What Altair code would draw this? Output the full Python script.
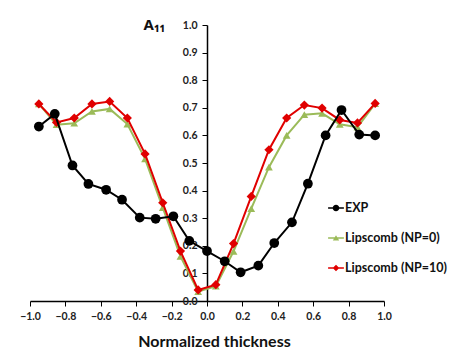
import altair as alt
import pandas as pd

# EXP data
exp_x = [-0.95, -0.86, -0.76, -0.67, -0.57, -0.48, -0.38, -0.29, -0.19, -0.10, 0.0,
         0.10, 0.19, 0.29, 0.38, 0.48, 0.57, 0.67, 0.76, 0.86, 0.95]
exp_y = [0.632, 0.678, 0.491, 0.424, 0.403, 0.367, 0.302, 0.298, 0.307, 0.218, 0.181,
         0.144, 0.104, 0.128, 0.210, 0.285, 0.425, 0.600, 0.692, 0.603, 0.600]

# Lipscomb model
mod_x = [-0.95, -0.85, -0.75, -0.65, -0.55, -0.45, -0.35, -0.25, -0.15, -0.05,
         0.05, 0.15, 0.25, 0.35, 0.45, 0.55, 0.65, 0.75, 0.85, 0.95]
np0_y = [0.714, 0.639, 0.644, 0.687, 0.696, 0.641, 0.515, 0.338, 0.162, 0.034,
         0.054, 0.180, 0.335, 0.485, 0.600, 0.675, 0.680, 0.640, 0.630, 0.715]
np10_y = [0.714, 0.647, 0.663, 0.714, 0.723, 0.663, 0.533, 0.356, 0.181, 0.040,
          0.059, 0.208, 0.379, 0.548, 0.663, 0.710, 0.699, 0.656, 0.645, 0.716]

x_ticks = [-1.0, -0.8, -0.6, -0.4, -0.2, 0.0, 0.2, 0.4, 0.6, 0.8, 1.0]
y_ticks = [0.0, 0.1, 0.2, 0.3, 0.4, 0.5, 0.6, 0.7, 0.8, 0.9, 1.0]

series_names = ["EXP", "Lipscomb (NP=0)", "Lipscomb (NP=10)"]
series_colors = ["#000000", "#9bbb59", "#e00000"]
legend_paths = [
    "M-1,-0.09H1V0.09H-1Z M-0.42,0A0.42,0.42 0 1,1 0.42,0A0.42,0.42 0 1,1 -0.42,0Z",
    "M-1,-0.09H1V0.09H-1Z M-0.4,0.32L0,-0.36L0.4,0.32Z",
    "M-1,-0.09H1V0.09H-1Z M0,-0.42L0.42,0L0,0.42L-0.42,0Z",
]

df_exp = pd.DataFrame({"x": exp_x, "y": exp_y, "series": series_names[0]})
df_np0 = pd.DataFrame({"x": mod_x, "y": np0_y, "series": series_names[1]})
df_np10 = pd.DataFrame({"x": mod_x, "y": np10_y, "series": series_names[2]})
df_all = pd.concat([df_exp, df_np0, df_np10], ignore_index=True)

FONT = "Lato"

xscale = alt.Scale(domain=[-1, 1], nice=False, zero=False)
yscale = alt.Scale(domain=[0, 1], nice=False)

x_enc = alt.X("x:Q", scale=xscale, axis=alt.Axis(
    title="Normalized thickness", values=x_ticks,
    format=".1f", grid=False, domainColor="#000", domainWidth=1.5, tickColor="#000",
    tickSize=5, labelFont=FONT, labelFontWeight="bold", labelFontSize=10.5, labelColor="#222",
    labelPadding=5, labelOverlap=False, labelFlush=False,
    titleFont=FONT, titleFontWeight="bold", titleFontSize=16,
    titlePadding=12, titleColor="#111", titleX=184, titleAlign="center"))
y_enc = alt.Y("y:Q", scale=yscale, axis=alt.Axis(
    title="A₁₁", values=y_ticks,
    format=".1f", grid=False, offset=-177, domainColor="#000", domainWidth=1.5,
    tickColor="#000", tickSize=5, labelFont=FONT, labelFontWeight="bold",
    labelFontSize=10.5, labelColor="#222", labelPadding=5, labelOverlap=False,
    labelFlush=False,
    titleAngle=0, titleAlign="left", titleBaseline="middle", titleX=-64, titleY=-1,
    titleFont="Noto Sans", titleFontWeight="bold", titleFontSize=15, titleColor="#111"))

def series_layers(df, color, shape, size):
    base = alt.Chart(df).encode(x=x_enc, y=y_enc)
    line = base.mark_line(color=color, strokeWidth=2)
    pts = base.mark_point(color=color, shape=shape, filled=True, size=size, opacity=1)
    return [line, pts]

layers = []
layers += series_layers(df_np0, series_colors[1], "triangle-up", 60)
layers += series_layers(df_np10, series_colors[2], "diamond", 85)
layers += series_layers(df_exp, series_colors[0], "circle", 95)

legend_layer = alt.Chart(df_all).transform_filter("datum.x > 5").mark_point(
    filled=True, opacity=1, size=250).encode(
    x=x_enc,
    y=y_enc,
    color=alt.Color("series:N", scale=alt.Scale(domain=series_names, range=series_colors),
                    legend=alt.Legend(title=None, orient="none", legendX=298, legendY=175,
                                      symbolSize=250, symbolStrokeWidth=0,
                                      labelFont=FONT, labelFontWeight="bold",
                                      labelFontSize=12.5, labelColor="#111",
                                      rowPadding=15, labelOffset=1, padding=0)),
    shape=alt.Shape("series:N", scale=alt.Scale(domain=series_names, range=legend_paths)),
)

chart = alt.layer(*layers, legend_layer).properties(
    width=354, height=276,
    autosize=alt.AutoSizeParams(type="none"),
    padding={"left": 30, "top": 25, "right": 90, "bottom": 49},
).configure(background="white", view=alt.ViewConfig(stroke=None))

chart.save("out.html", embed_options={"renderer": "svg", "actions": False})
